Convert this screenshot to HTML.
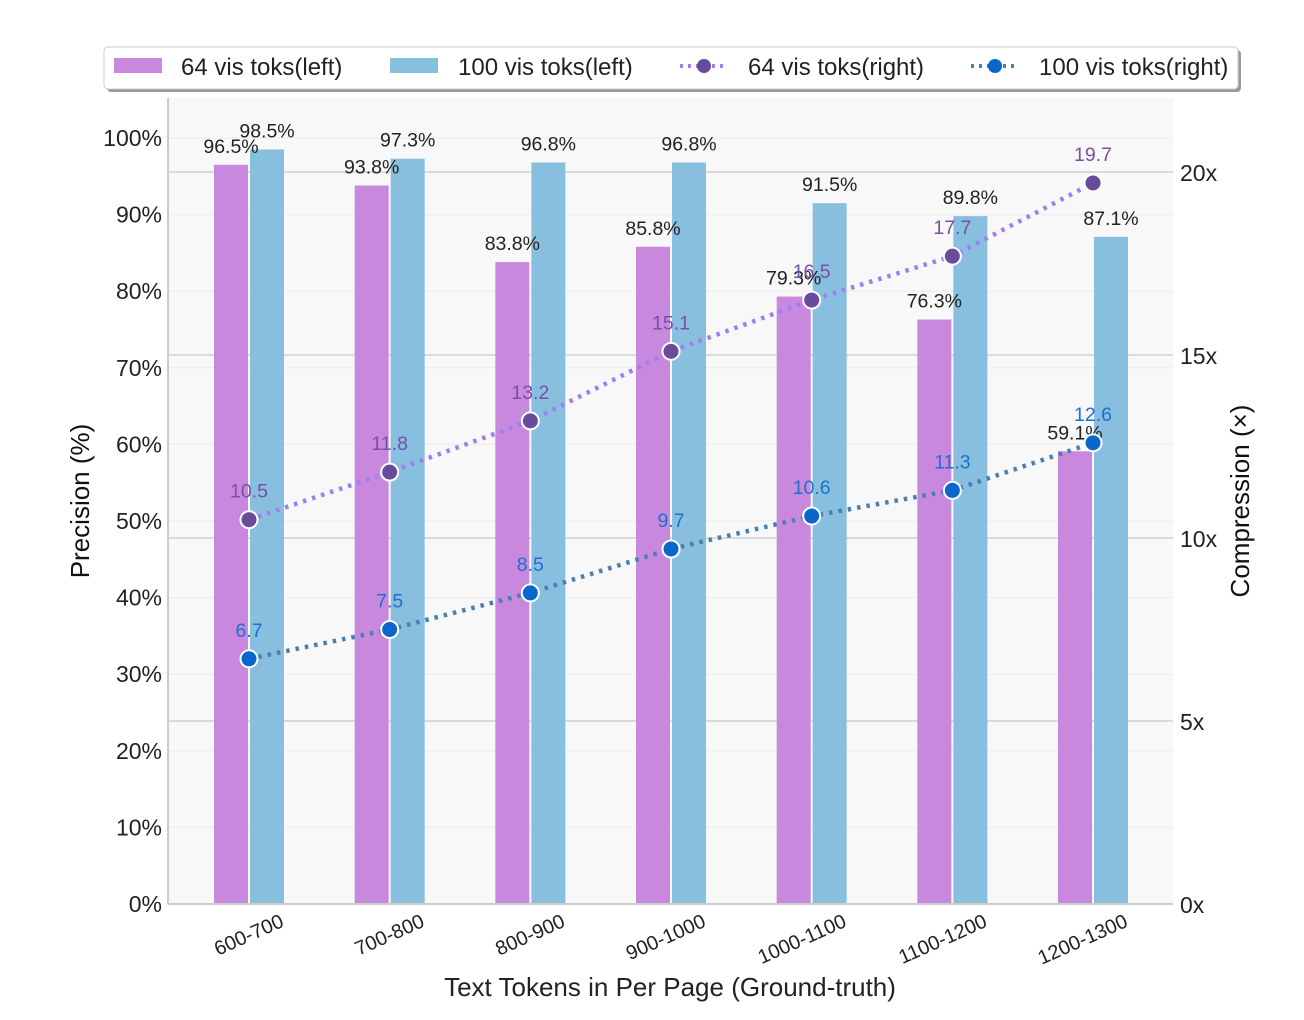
<!DOCTYPE html>
<html><head><meta charset="utf-8"><style>
body{margin:0;background:#fff;}
svg{display:block;font-family:"Liberation Sans",Arial,sans-serif;}
</style></head><body>
<svg id="chart" width="1304" height="1020" viewBox="0 0 1304 1020">
<rect x="168" y="98" width="1005" height="806" fill="#f8f8f8"/>
<g id="grid"></g>
<g id="bars"></g>
<g id="lines"></g>
<g id="axes"></g>
<g>
<rect x="107" y="50" width="1134" height="42" rx="4" fill="#999"/>
<rect x="104" y="47" width="1134" height="42" rx="4" fill="#fff" stroke="#ccc"/>
<rect x="114" y="58" width="48" height="15" fill="#c888de"/>
<text x="181" y="75" font-size="24" fill="#222">64 vis toks(left)</text>
<rect x="390" y="58" width="48" height="15" fill="#88bfdf"/>
<text x="458" y="75" font-size="24" fill="#222">100 vis toks(left)</text>
<line x1="680" y1="66" x2="728" y2="66" stroke="#a07ef0" stroke-width="4" stroke-dasharray="3,5"/>
<circle cx="704" cy="66" r="7" fill="#6a4a9a"/>
<text x="748" y="75" font-size="24" fill="#222">64 vis toks(right)</text>
<line x1="971" y1="66" x2="1019" y2="66" stroke="#4a80b0" stroke-width="4" stroke-dasharray="3,5"/>
<circle cx="995" cy="66" r="7" fill="#0a66cc"/>
<text x="1039" y="75" font-size="24" fill="#222">100 vis toks(right)</text>
</g>
<text transform="translate(89,501) rotate(-90)" text-anchor="middle" font-size="26" fill="#111">Precision (%)</text>
<text transform="translate(1249,501) rotate(-90)" text-anchor="middle" font-size="26" fill="#111">Compression (×)</text>
<text x="670" y="996" text-anchor="middle" font-size="26" fill="#222">Text Tokens in Per Page (Ground-truth)</text>
</svg>
<script>
const categories=["600-700","700-800","800-900","900-1000","1000-1100","1100-1200","1200-1300"];
const prec64=[96.5,93.8,83.8,85.8,79.3,76.3,59.1];
const prec100=[98.5,97.3,96.8,96.8,91.5,89.8,87.1];
const comp64=[10.5,11.8,13.2,15.1,16.5,17.7,19.7];
const comp100=[6.7,7.5,8.5,9.7,10.6,11.3,12.6];
const leftTicks=[0,10,20,30,40,50,60,70,80,90,100];
const rightTicks=[0,5,10,15,20];
const NS="http://www.w3.org/2000/svg";
const X0=168,X1=1173,YB=904;
const xC=i=>249+i*140.67;
const yL=v=>YB-v*7.66;
const yR=v=>YB-v*36.6;
function mk(tag,attrs,parent,txt){const e=document.createElementNS(NS,tag);for(const k in attrs)e.setAttribute(k,attrs[k]);if(txt!==undefined)e.textContent=txt;document.getElementById(parent).appendChild(e);return e;}
leftTicks.forEach(t=>{mk('line',{x1:X0,x2:X1,y1:yL(t),y2:yL(t),stroke:'#ececec','stroke-width':1},'grid');});
rightTicks.forEach(t=>{if(t>0)mk('line',{x1:X0,x2:X1,y1:yR(t),y2:yR(t),stroke:'#c8c8c8','stroke-width':1.2},'grid');});
categories.forEach((c,i)=>{
 const b1=mk('rect',{x:xC(i)-35,y:yL(prec64[i]),width:34,height:YB-yL(prec64[i]),fill:'#c888de'},'bars');
 
 
 const b2=mk('rect',{x:xC(i)+1,y:yL(prec100[i]),width:34,height:YB-yL(prec100[i]),fill:'#88bfdf'},'bars');
 
 
 const t1=mk('text',{x:xC(i)-18,y:yL(prec64[i])-12,'text-anchor':'middle','font-size':19.5,fill:'#222'},'bars',prec64[i].toFixed(1)+'%');
 
 
 const t2=mk('text',{x:xC(i)+18,y:yL(prec100[i])-12,'text-anchor':'middle','font-size':19.5,fill:'#222'},'bars',prec100[i].toFixed(1)+'%');
 
 
});
function series(vals,color,mcolor,tcolor,name){
 const pts=vals.map((v,i)=>xC(i)+','+yR(v)).join(' ');
 const l=mk('polyline',{points:pts,fill:'none',stroke:color,'stroke-width':4.5,'stroke-dasharray':'3.5,6'},'lines');
 
 
 vals.forEach((v,i)=>{
  const p=mk('circle',{cx:xC(i),cy:yR(v),r:8.5,fill:mcolor,stroke:'#fff','stroke-width':2},'lines');
  
  
  const t=mk('text',{x:xC(i),y:yR(v)-22,'text-anchor':'middle','font-size':19.5,fill:tcolor},'lines',v.toFixed(1));
  
  
 });
}
series(comp64,'#a07ef0','#6a4a9a','#7a4fa6','64-right');
series(comp100,'#4a80b0','#0a66cc','#1f6fd0','100-right');
mk('line',{x1:X0,x2:X0,y1:98,y2:YB,stroke:'#ccc','stroke-width':2},'axes');
mk('line',{x1:X0,x2:X1,y1:YB,y2:YB,stroke:'#ccc','stroke-width':2},'axes');
leftTicks.forEach(t=>{const e=mk('text',{x:162,y:yL(t)+8,'text-anchor':'end','font-size':23,fill:'#222'},'axes',t+'%');
 
 });
rightTicks.forEach(t=>{const e=mk('text',{x:1180,y:yR(t)+9,'font-size':23,fill:'#222'},'axes',t+'x');
 
 });
categories.forEach((c,i)=>{const e=mk('text',{transform:'translate('+(xC(i)+36)+',926) rotate(-24)','text-anchor':'end','font-size':20,fill:'#222'},'axes',c);
 
 });
</script>
</body></html>
